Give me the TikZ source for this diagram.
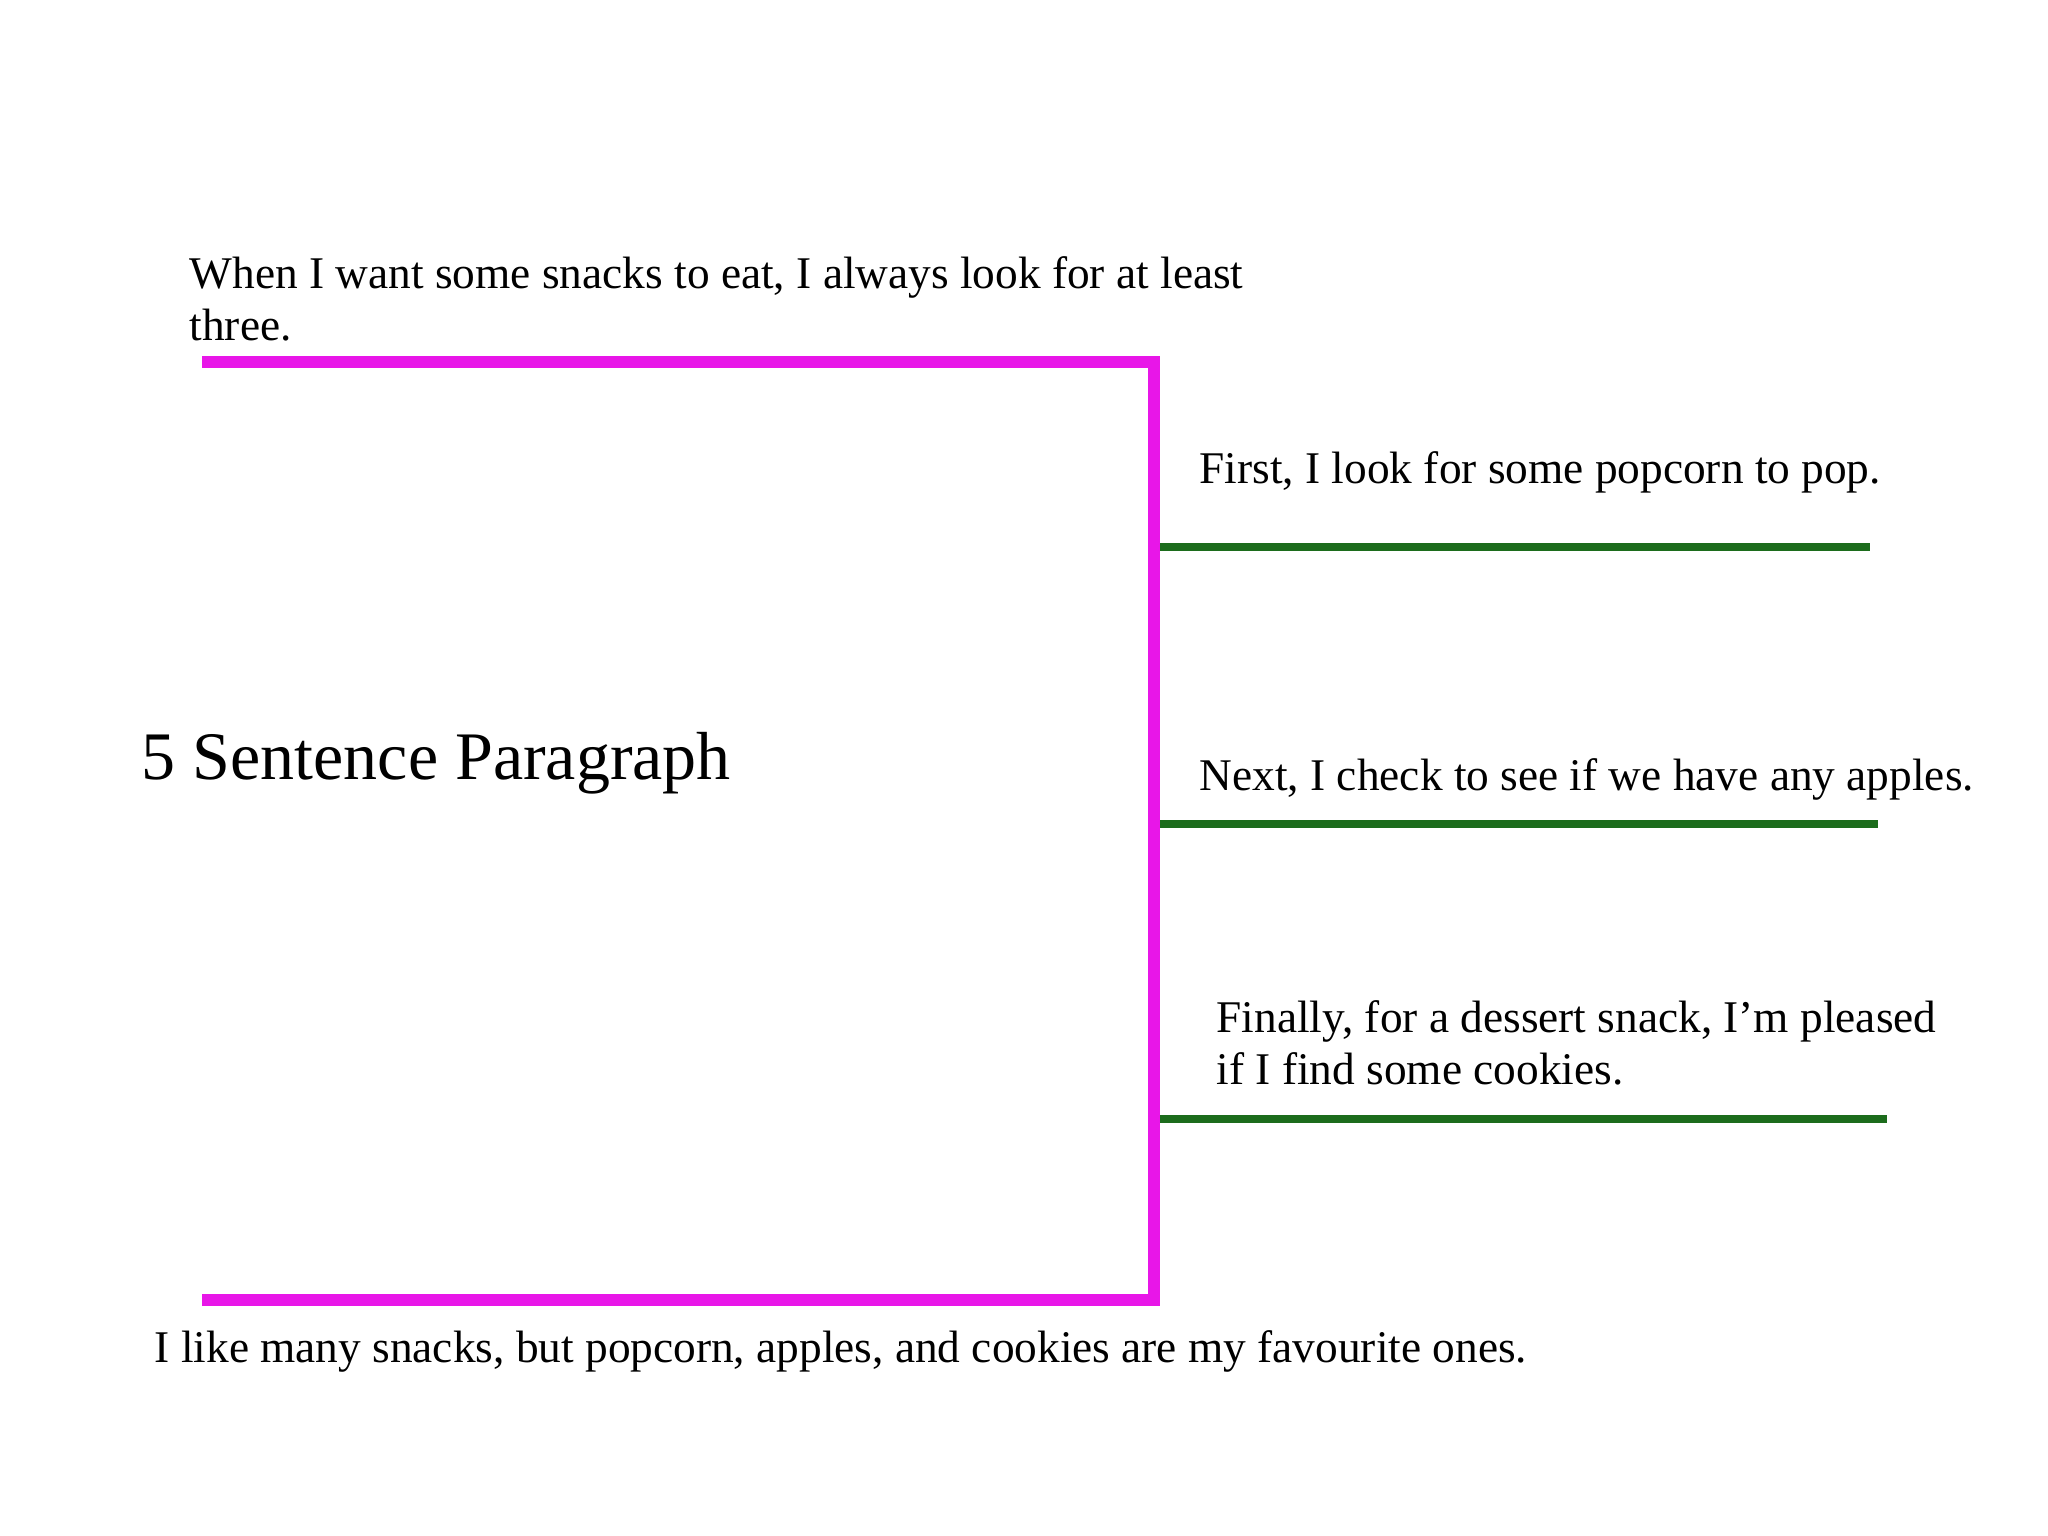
\documentclass[tikz,border=0pt]{standalone}
\usepackage{fontspec}
\setmainfont{Liberation Serif}
\definecolor{pink}{RGB}{232,22,232}
\definecolor{leaf}{RGB}{28,108,28}
\begin{document}
\begin{tikzpicture}[every node/.style={inner sep=0pt, anchor=base west, align=left,
    font=\fontsize{12.9}{14.9}\selectfont},
  frame/.style={draw=pink, line width=3.4pt},
  branch/.style={draw=leaf, line width=2.3pt}]
  \useasboundingbox (0,0) rectangle (20.48,15.36);
  \node (intro) at (1.89,11.95) {When I want some snacks to eat, I always look for at least\\three.};
  \node (title) at (1.41,7.56) {\fontsize{19.35}{23}\selectfont 5 Sentence Paragraph};
  \node (first) at (11.99,10.52) {First, I look for some popcorn to pop.};
  \node (next) at (11.99,7.45) {Next, I check to see if we have any apples.};
  \node (last) at (12.16,4.51) {Finally, for a dessert snack, I’m pleased\\if I find some cookies.};
  \node (concl) at (1.54,1.73) {I like many snacks, but popcorn, apples, and cookies are my favourite ones.};
  \coordinate (tl) at (2.02,11.74);
  \coordinate (tr) at (11.54,11.74);
  \coordinate (br) at (11.54,2.36);
  \coordinate (bl) at (2.02,2.36);
  \coordinate (s1) at (11.54,9.89);
  \coordinate (e1) at (18.70,9.89);
  \coordinate (s2) at (11.54,7.12);
  \coordinate (e2) at (18.78,7.12);
  \coordinate (s3) at (11.54,4.17);
  \coordinate (e3) at (18.87,4.17);
  \draw [branch] (s1) -- (e1);
  \draw [branch] (s2) -- (e2);
  \draw [branch] (s3) -- (e3);
  \draw [frame] (tl) -- (tr) -- (br) -- (bl);
\end{tikzpicture}
\end{document}
